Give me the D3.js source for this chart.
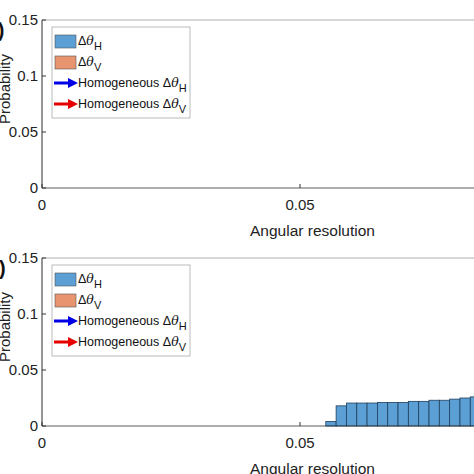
<!DOCTYPE html>
<html lang="en">
<head>
<meta charset="UTF-8" />
<script src="https://d3js.org/d3.v7.js"></script>
<style>body{margin:0;background:#fff}</style>
</head>
<body>
<svg id="chart" width="474" height="474"></svg>
<script>
// histogram bins (left edges) and probabilities, panel b
var binStarts = [0.055, 0.057, 0.059, 0.061, 0.063, 0.065, 0.067, 0.069, 0.071, 0.073, 0.075, 0.077, 0.079, 0.081, 0.083];
var probsB = [0.004, 0.018, 0.0205, 0.0205, 0.0205, 0.021, 0.021, 0.021, 0.022, 0.022, 0.023, 0.023, 0.024, 0.025, 0.026];
var binWidth = 0.002;
var yTicks = [0, 0.05, 0.1, 0.15];
var xTicks = [0, 0.05, 0.1];
var panelLetters = ["a", "b"];

var svg = d3.select("#chart");
var font = "Arial, 'Liberation Sans', sans-serif";
var x = d3.scaleLinear().domain([0, 0.05]).range([42, 300]);
var panels = [{top: 20, bottom: 188, data: []}, {top: 258, bottom: 426, data: probsB}];

panels.forEach(function (p, i) {
    var y = d3.scaleLinear().domain([0, 0.15]).range([p.bottom, p.top]);
    var g = svg.append("g");

    g.selectAll("rect.bar")
        .data(p.data)
        .enter().append("rect")
        .attr("x", (d, j) => x(binStarts[j]))
        .attr("width", x(binWidth) - x(0))
        .attr("y", d => y(d))
        .attr("height", d => p.bottom - y(d))
        .attr("fill", "#5b9fd5")
        .attr("stroke", "#1f3f5c")
        .attr("stroke-width", 0.8);

    // box
    g.append("path")
        .attr("d", `M42,${p.bottom}V${p.top}H480`)
        .attr("fill", "none").attr("stroke", "#999").attr("stroke-width", 0.8);
    g.append("line").attr("x1", 42).attr("x2", 480).attr("y1", p.bottom).attr("y2", p.bottom)
        .attr("stroke", "#333").attr("stroke-width", 0.8);
    g.append("line").attr("x1", 42).attr("x2", 42).attr("y1", p.bottom).attr("y2", p.top)
        .attr("stroke", "#333").attr("stroke-width", 0.8);

    yTicks.forEach(function (t) {
        g.append("line").attr("x1", 42).attr("x2", 46).attr("y1", y(t)).attr("y2", y(t)).attr("stroke", "#333");
        g.append("text").attr("x", 38).attr("y", y(t) + 5).attr("text-anchor", "end")
            .attr("font-family", font).attr("font-size", 15).attr("fill", "#222").text(t);
    });
    xTicks.forEach(function (t) {
        g.append("line").attr("x1", x(t)).attr("x2", x(t)).attr("y1", p.bottom).attr("y2", p.bottom - 4).attr("stroke", "#333");
        g.append("text").attr("x", x(t)).attr("y", p.bottom + 22).attr("text-anchor", "middle")
            .attr("font-family", font).attr("font-size", 15).attr("fill", "#222").text(t);
    });
    g.append("text").attr("x", 250).attr("y", p.bottom + 48)
        .attr("font-family", font).attr("font-size", 15.5).attr("fill", "#222").text("Angular resolution");
    g.append("text").attr("transform", `translate(10,${(p.top + p.bottom) / 2 - 15}) rotate(-90)`)
        .attr("text-anchor", "middle").attr("font-family", font).attr("font-size", 15).attr("fill", "#222")
        .text("Probability");
    g.append("text").attr("x", -20).attr("y", p.top + 17).attr("font-family", font).attr("font-size", 20)
        .attr("font-weight", "bold").attr("fill", "#111").text("(" + panelLetters[i] + ")");

    // legend
    var lx = 52, ly = p.top + 7;
    g.append("rect").attr("x", lx).attr("y", ly).attr("width", 138).attr("height", 91)
        .attr("fill", "#fff").attr("stroke", "#aaa").attr("stroke-width", 0.8);
    var items = [
        {type: "patch", color: "#5b9fd5", sub: "H", label: ""},
        {type: "patch", color: "#e8956f", sub: "V", label: ""},
        {type: "arrow", color: "#0000e6", sub: "H", label: "Homogeneous "},
        {type: "arrow", color: "#e60000", sub: "V", label: "Homogeneous "}
    ];
    items.forEach(function (it, k) {
        var cy = ly + 14 + k * 21;
        if (it.type === "patch") {
            g.append("rect").attr("x", lx + 3).attr("y", cy - 6).attr("width", 21).attr("height", 13)
                .attr("fill", it.color).attr("stroke", "#555").attr("stroke-width", 0.6);
        } else {
            g.append("line").attr("x1", lx + 2).attr("x2", lx + 18).attr("y1", cy).attr("y2", cy)
                .attr("stroke", it.color).attr("stroke-width", 3);
            g.append("path").attr("d", `M${lx + 16},${cy - 5}L${lx + 26},${cy}L${lx + 16},${cy + 5}Z`).attr("fill", it.color);
        }
        var t = g.append("text").attr("x", lx + 26).attr("y", cy + 4)
            .attr("font-family", font).attr("font-size", 12.5).attr("fill", "#111");
        t.append("tspan").text(it.label + "Δ");
        t.append("tspan").attr("font-style", "italic").attr("font-family", "'DejaVu Serif', serif").text("θ");
        t.append("tspan").attr("dy", 5).attr("font-size", 11).text(it.sub);
    });
});
</script>
</body>
</html>
